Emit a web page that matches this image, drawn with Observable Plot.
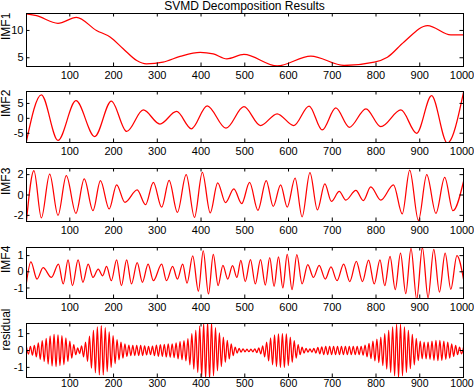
<!DOCTYPE html>
<html><head><meta charset="utf-8">
<script src="https://cdn.jsdelivr.net/npm/d3@7"></script>
<script src="https://cdn.jsdelivr.net/npm/@observablehq/plot@0.6"></script>
<style>
html,body{margin:0;padding:0;background:#fff;}
#chart{position:relative;width:474px;height:390px;overflow:hidden;font-family:"Liberation Sans",Arial,sans-serif;}
#chart svg{position:absolute;left:0;}
#title{position:absolute;left:26px;width:437px;text-align:center;top:0px;font-size:12px;line-height:12px;color:#000;}
</style></head><body>
<div id="chart"><div id="title">SVMD Decomposition Results</div></div>
<script>
// ---- data (x, value) ----
const xTicks = [100,200,300,400,500,600,700,800,900,1000];

const imf1 = [[1,13.05],[24,12.7],[73,11.3],[115,12.4],[161,10.0],[192,8.8],[222,6.65],[253,4.5],[275,3.9],[313,4.2],[352,5.25],[398,6.0],[428,5.7],[459,4.8],[498,5.6],[574,3.5],[651,5.3],[727,3.6],[796,4.2],[826,5.1],[864,7.9],[918,10.9],[971,9.2],[1000,9.2]];

const imf2 = [[1,-7.6],[35,7.9],[73,-7.4],[114,5.9],[157,-6.1],[195,5.8],[230,-4.4],[268,2.8],[306,-1.9],[344,2.3],[378,-3.5],[414,4.2],[457,-3.3],[498,3.9],[536,-2.4],[574,1.5],[612,-2.4],[647,4.1],[677,-3.9],[708,3.5],[739,-3.0],[777,3.2],[811,-2.8],[857,2.8],[893,-5.0],[927,7.6],[963,-8.3],[1000,8.7]];

const imf3 = [[1,-2.5],[18,2.4],[35,-2.25],[54,2.05],[73,-2.0],[92,1.9],[114,-1.8],[133,1.57],[153,-1.54],[170,1.4],[190,-1.37],[207,1.0],[226,-0.72],[254,0.5],[273,-0.95],[291,1.24],[310,-1.2],[327,1.44],[346,-1.7],[366,2.0],[385,-2.2],[403,2.22],[421,-1.75],[438,1.2],[456,-0.75],[475,0.6],[493,-0.85],[511,1.24],[530,-1.5],[549,1.42],[565,-1.12],[582,1.0],[597,-1.18],[615,1.65],[631,-2.15],[649,2.2],[666,-1.47],[683,1.08],[698,-0.63],[716,0.35],[731,-0.5],[754,0.45],[771,-0.55],[788,0.8],[811,-0.5],[840,1.0],[860,-1.86],[877,2.45],[897,-2.5],[916,2.0],[937,-1.8],[957,1.73],[976,-1.54],[1000,1.33]];

const imf4 = [[1,-0.65],[11,0.61],[25,-0.45],[39,0.25],[58,-0.35],[74,0.47],[85,-0.75],[96,0.74],[106,-0.86],[119,0.74],[130,-0.65],[142,0.47],[153,-0.35],[165,0.16],[175,-0.25],[184,0.33],[195,-0.55],[207,0.74],[218,-0.86],[230,0.74],[241,-0.75],[254,0.57],[266,-0.65],[279,0.47],[291,-0.55],[310,0.47],[321,-0.55],[335,0.33],[346,-0.45],[358,0.47],[368,-0.7],[381,0.98],[394,-1.2],[405,1.29],[417,-1.37],[428,1.08],[439,-0.85],[450,0.4],[461,-0.45],[472,0.38],[482,-0.35],[491,0.7],[501,-0.6],[513,0.75],[524,-0.75],[536,0.75],[547,-0.82],[557,0.88],[567,-0.9],[577,0.92],[587,-1.0],[597,1.08],[608,-1.1],[619,1.06],[631,-0.75],[644,0.45],[657,-0.35],[670,0.4],[684,-0.45],[697,0.3],[711,-0.55],[726,0.47],[740,-0.6],[755,0.65],[769,-0.6],[783,0.72],[796,-0.75],[809,0.74],[820,-0.86],[832,0.95],[844,-1.1],[856,1.15],[868,-1.35],[880,1.45],[893,-1.7],[906,1.5],[919,-1.6],[932,1.38],[945,-1.25],[958,1.15],[971,-1.08],[985,1.0],[1000,-0.45]];

// residual: successive extrema, one every 4.5 samples
const residualStep = 4.5;
const residual = [
 0.2,-0.22,0.25,-0.28,0.3,-0.38,0.45,-0.52,0.58,-0.65,
 0.72,-0.8,0.86,-0.92,0.95,-0.95,0.93,-0.9,0.88,-0.85,
 0.75,-0.65,0.55,-0.45,0.35,-0.25,0.15,-0.18,0.28,-0.38,
 0.5,-0.65,0.85,-1.05,1.2,-1.32,1.4,-1.45,1.48,-1.45,
 1.35,-1.25,1.1,-1.0,0.88,-0.78,0.65,-0.55,0.5,-0.45,
 0.4,-0.35,0.32,-0.3,0.3,-0.3,0.3,-0.3,0.3,-0.3,
 0.28,-0.26,0.25,-0.25,0.26,-0.3,0.32,-0.35,0.35,-0.35,
 0.36,-0.38,0.4,-0.4,0.4,-0.42,0.45,-0.5,0.52,-0.55,
 0.58,-0.62,0.7,-0.85,1.0,-1.1,1.2,-1.3,1.45,-1.55,
 1.6,-1.65,1.7,-1.7,1.65,-1.5,1.35,-1.2,1.05,-0.95,
 0.8,-0.7,0.6,-0.5,0.4,-0.3,0.2,-0.15,0.12,-0.1,
 0.1,-0.08,0.08,-0.07,0.08,-0.08,0.1,-0.12,0.15,-0.2,
 0.28,-0.38,0.5,-0.62,0.75,-0.85,0.92,-0.95,0.98,-1.0,
 1.0,-1.0,0.98,-0.9,0.8,-0.7,0.58,-0.45,0.35,-0.25,
 0.2,-0.15,0.12,-0.1,0.1,-0.1,0.12,-0.15,0.18,-0.2,
 0.22,-0.25,0.25,-0.25,0.25,-0.25,0.25,-0.25,0.25,-0.25,
 0.25,-0.25,0.25,-0.25,0.25,-0.25,0.25,-0.25,0.25,-0.25,
 0.25,-0.28,0.32,-0.38,0.42,-0.48,0.55,-0.62,0.68,-0.72,
 0.8,-0.9,1.0,-1.1,1.2,-1.3,1.4,-1.5,1.55,-1.6,
 1.55,-1.5,1.4,-1.3,1.2,-1.08,0.95,-0.85,0.72,-0.6,
 0.55,-0.5,0.5,-0.5,0.5,-0.52,0.55,-0.58,0.6,-0.6,
 0.6,-0.58,0.55,-0.52,0.5,-0.45,0.4,-0.35,0.3,-0.25,
 0.2,-0.2,0.18
];
const residualData = residual.map((v, i) => [Math.min(1 + i * residualStep, 1000), v]);

// ---- layout ----
const panels = [
  {name: "IMF1", data: imf1, yDomain: [3.4, 13.1], yTicks: [5, 10], top: 13, bottom: 66, pad: 5, fs: 11},
  {name: "IMF2", data: imf2, yDomain: [-8.1, 9], yTicks: [-5, 0, 5], top: 91, bottom: 142, pad: 5, fs: 11},
  {name: "IMF3", data: imf3, yDomain: [-2.6, 2.6], yTicks: [-2, 0, 2], top: 168, bottom: 221, pad: 5, fs: 11},
  {name: "IMF4", data: imf4, yDomain: [-1.65, 1.5], yTicks: [-1, 0, 1], top: 247, bottom: 298, pad: 5, fs: 11},
  {name: "residual", data: residualData, yDomain: [-1.6, 1.6], yTicks: [-1, 0, 1], top: 323, bottom: 377, pad: 2, fs: 10.5}
];

const W = 474, ML = 26, MR = 11, MT = 1, MB = 22, TICK = 3.5;
const FW = W - ML - MR;
const font = '"Liberation Sans",Arial,sans-serif';
const root = document.getElementById("chart");
const lastTick = xTicks[xTicks.length - 1];

for (const p of panels) {
  const FH = p.bottom - p.top;
  const svg = Plot.plot({
    width: W, height: FH + MT + MB,
    marginLeft: ML, marginRight: MR, marginTop: MT, marginBottom: MB,
    x: {domain: [1, 1000]},
    y: {domain: p.yDomain},
    style: {fontFamily: font, fontSize: "11px", color: "#000", background: "transparent", overflow: "visible"},
    marks: [
      Plot.line(p.data, {x: d => d[0], y: d => d[1], stroke: "#ff0000", strokeWidth: 1.25, curve: "monotone-x", clip: true}),
      Plot.frame({stroke: "#000", strokeWidth: 1}),
      Plot.ruleX(xTicks, {x: d => d, insetTop: FH - TICK, stroke: "#000"}),
      Plot.ruleX(xTicks, {x: d => d, insetBottom: FH - TICK, stroke: "#000"}),
      Plot.ruleY(p.yTicks, {y: d => d, insetRight: FW - TICK, stroke: "#000"}),
      Plot.ruleY(p.yTicks, {y: d => d, insetLeft: FW - TICK, stroke: "#000"}),
      Plot.axisX(xTicks.slice(0, -1), {tickSize: 0, tickPadding: p.pad, tickFormat: d => String(d), label: null, fontSize: p.fs}),
      Plot.axisX([lastTick], {tickSize: 0, tickPadding: p.pad, tickFormat: d => String(d), label: null, fontSize: p.fs, dx: -1.5}),
      Plot.axisY(p.yTicks, {tickSize: 0, tickPadding: 3, tickFormat: d => String(d), label: null, fontSize: 11}),
      Plot.text([p.name], {frameAnchor: "left", dx: -20, rotate: -90, fontSize: 12, fill: "#000"})
    ]
  });
  svg.style.top = (p.top - MT) + "px";
  root.appendChild(svg);
}
</script>
</body></html>
